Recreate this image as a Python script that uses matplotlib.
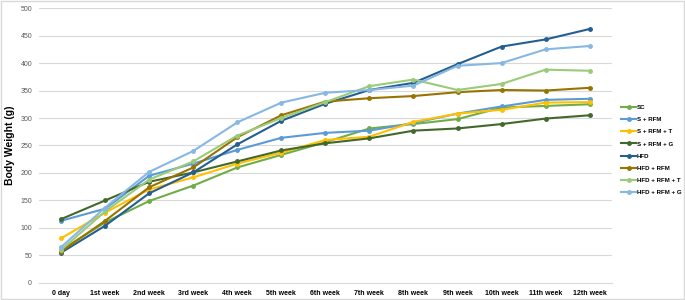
import matplotlib.pyplot as plt

plt.rcParams['font.family'] = ['Liberation Sans Narrow', 'Liberation Sans', 'DejaVu Sans']

weeks = ["0 day", "1st week", "2nd week", "3rd week", "4th week", "5th week", "6th week",
         "7th week", "8th week", "9th week", "10th week", "11th week", "12th week"]

sc = [60, 110, 149, 177, 210, 233, 256, 281, 289, 298, 319, 322, 325]
s_rfm = [113, 135, 195, 217, 242, 264, 273, 277, 291, 308, 321, 333, 335]
s_rfm_t = [81, 128, 170, 192, 217, 237, 260, 266, 293, 308, 315, 328, 329]
s_rfm_g = [116, 150, 184, 201, 221, 241, 254, 263, 277, 281, 289, 299, 305]
hfd = [55, 104, 163, 201, 252, 295, 326, 351, 364, 398, 430, 443, 462]
hfd_rfm = [57, 113, 174, 210, 265, 305, 330, 336, 340, 347, 351, 350, 355]
hfd_rfm_t = [60, 130, 188, 221, 268, 300, 329, 358, 370, 351, 362, 388, 386]
hfd_rfm_g = [65, 137, 202, 240, 292, 328, 346, 351, 359, 395, 400, 425, 431]

names = ["SC", "S + RFM", "S + RFM + T", "S + RFM + G", "HFD", "HFD + RFM",
         "HFD + RFM + T", "HFD + RFM + G"]
series = [sc, s_rfm, s_rfm_t, s_rfm_g, hfd, hfd_rfm, hfd_rfm_t, hfd_rfm_g]
colors = ["#70AD47", "#5B9BD5", "#FFC000", "#43682B", "#255E91", "#997300",
          "#9BCB7A", "#86B8E3"]

fig = plt.figure(figsize=(6.85, 3.0), dpi=100)
ax = fig.add_axes([0.057, 0.057, 0.836, 0.916])

x = range(len(weeks))
for vals, name, c in zip(series, names, colors):
    ax.plot(x, vals, color=c, lw=1.5, marker="o", ms=2.5, label=name)

ax.set_xlim(-0.5, 12.5)
ax.set_ylim(0, 500)
ax.set_yticks(range(0, 501, 50))
ax.set_xticks(list(x))
ax.set_xticklabels(weeks, fontsize=5, fontweight="bold")
ax.tick_params(axis="y", labelsize=5, labelcolor="#595959", length=0, pad=5)
ax.tick_params(axis="x", length=0, pad=5)
ax.grid(axis="y", color="#D9D9D9", lw=0.8)
ax.set_axisbelow(True)
for s in ["top", "right", "left"]:
    ax.spines[s].set_visible(False)
ax.spines["bottom"].set_color("#D9D9D9")
ax.set_ylabel("Body Weight (g)", fontsize=7.5, fontweight="bold", labelpad=4)

fig.legend(loc="center left", bbox_to_anchor=(0.906, 0.5), frameon=False,
           prop={"weight": "bold", "size": 4.4}, handlelength=2.6, labelspacing=1.12,
           handletextpad=0.1, borderaxespad=0, borderpad=0)

fig.patches.append(plt.Rectangle((0.002, 0.003), 0.996, 0.994, transform=fig.transFigure,
                                 fill=False, edgecolor="#D9D9D9", lw=1))

fig.savefig("out.png", dpi=100)
